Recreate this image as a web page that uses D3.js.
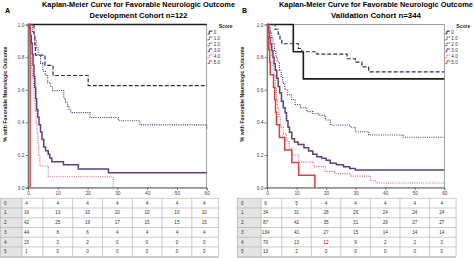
<!DOCTYPE html>
<html>
<head>
<meta charset="utf-8">
<script src="https://cdn.jsdelivr.net/npm/d3@7"></script>
<style>
body { margin: 0; background: #fff; }
svg { display: block; }
text { font-family: "Liberation Sans", Arial, sans-serif; }
</style>
</head>
<body>
<div id="chart"></div>
<script>
var months = [0, 10, 20, 30, 40, 50, 60],
    yTicks = [0, 0.2, 0.4, 0.6, 0.8, 1.0],
    scoreLabels = ['0', '1.0', '2.0', '3.0', '4.0', '5.0'],
    rowLabels = ['0', '1', '2', '3', '4', '5'];

// numbers at risk, one row per score, one value per month tick
var riskDev = [
    [4, 4, 4, 4, 4, 4, 4],
    [16, 13, 10, 10, 10, 10, 10],
    [42, 25, 19, 17, 15, 15, 15],
    [44, 8, 6, 4, 4, 4, 4],
    [15, 2, 2, 0, 0, 0, 0],
    [1, 0, 0, 0, 0, 0, 0]
];
var riskVal = [
    [6, 5, 4, 4, 4, 4, 4],
    [34, 31, 28, 26, 24, 24, 24],
    [87, 42, 35, 31, 29, 27, 27],
    [134, 41, 27, 15, 14, 14, 14],
    [70, 13, 12, 9, 2, 2, 2],
    [13, 2, 0, 0, 0, 0, 0]
];

// Kaplan-Meier steps: [month, survival from that month on]
var dev0 = [[0, 1], [60, 1]];
var dev1 = [[0, 1], [2.0, 0.9375], [2.3, 0.875], [2.5, 0.8125], [5.7, 0.75], [8.4, 0.6875], [20.2, 0.625], [60, 0.625]];
var dev2 = [[0, 1], [1.5, 0.952], [2.2, 0.905], [2.8, 0.857], [3.4, 0.81], [4.2, 0.762], [5, 0.714], [5.8, 0.69],
    [6.6, 0.643], [7.6, 0.619], [8.3, 0.595], [12, 0.548], [12.6, 0.524], [13.3, 0.5], [13.8, 0.476], [14.4, 0.46],
    [20.8, 0.43], [30.3, 0.41], [37.6, 0.385], [60, 0.36]];
var dev3 = [[0, 1], [0.5, 0.977], [0.8, 0.932], [1.1, 0.886], [1.4, 0.818], [1.7, 0.75], [2, 0.682], [2.3, 0.614],
    [2.6, 0.545], [2.9, 0.477], [3.3, 0.432], [3.7, 0.386], [4.2, 0.341], [4.7, 0.295], [5.3, 0.25], [5.9, 0.227],
    [6.8, 0.205], [7.3, 0.182], [8, 0.159], [11.9, 0.14], [16.9, 0.114], [27, 0.092], [60, 0.092]];
var dev4 = [[0, 1], [0.3, 0.933], [0.6, 0.867], [0.9, 0.8], [1.2, 0.733], [1.5, 0.667], [1.8, 0.6], [2.1, 0.533],
    [2.4, 0.467], [2.7, 0.4], [3, 0.333], [3.3, 0.267], [3.6, 0.2], [4, 0.133], [6.8, 0.067], [28.6, 0]];
var dev5 = [[0, 1], [0.7, 0]];

var val0 = [[0, 1], [8.9, 0.833], [12.3, 0.667], [60, 0.667]];
var val1 = [[0, 1], [2.7, 0.971], [3.8, 0.941], [4.4, 0.912], [5, 0.882], [10.6, 0.853], [11.8, 0.833], [16.9, 0.818],
    [27.1, 0.79], [29.9, 0.77], [32.1, 0.74], [34.4, 0.71], [60, 0.71]];
var val2 = [[0, 1], [0.8, 0.977], [1.2, 0.954], [1.6, 0.92], [2, 0.885], [2.5, 0.84], [3, 0.8], [3.5, 0.77],
    [4.2, 0.72], [4.8, 0.68], [5.3, 0.64], [6, 0.6], [7, 0.57], [8.3, 0.54], [9.5, 0.51], [11.3, 0.49], [13.5, 0.466],
    [15.5, 0.455], [17.5, 0.445], [19.7, 0.415], [21.4, 0.384], [28.2, 0.37], [29.9, 0.343], [34.4, 0.323],
    [46, 0.309], [60, 0.309]];
var val3 = [[0, 1], [0.3, 0.985], [0.6, 0.955], [0.9, 0.918], [1.2, 0.88], [1.6, 0.84], [2, 0.8], [2.4, 0.76],
    [2.8, 0.72], [3.3, 0.67], [3.8, 0.62], [4.3, 0.58], [4.9, 0.53], [5.5, 0.49], [6.1, 0.46], [6.6, 0.41],
    [7.1, 0.37], [7.6, 0.34], [8.4, 0.3], [9.3, 0.28], [10.5, 0.265], [12.5, 0.245], [14.1, 0.225], [15.5, 0.205],
    [16.9, 0.19], [18.5, 0.18], [20, 0.168], [21.4, 0.15], [23.5, 0.14], [25.9, 0.128], [28, 0.118], [29.9, 0.108],
    [60, 0.108]];
var val4 = [[0, 1], [0.4, 0.957], [0.8, 0.914], [1.2, 0.857], [1.6, 0.8], [2, 0.743], [2.4, 0.686], [2.8, 0.614],
    [3.2, 0.543], [3.6, 0.486], [4, 0.43], [4.5, 0.37], [5.5, 0.33], [6.6, 0.286], [7.5, 0.243], [8.4, 0.2],
    [10.8, 0.157], [15.8, 0.129], [19.7, 0.1], [23, 0.086], [28.2, 0.071], [35, 0.043], [36.9, 0.029], [60, 0.029]];
var val5 = [[0, 1], [0.3, 0.923], [0.6, 0.846], [0.9, 0.769], [1.1, 0.692], [2.2, 0.615], [2.6, 0.538], [2.9, 0.462],
    [3.2, 0.385], [4.2, 0.308], [6, 0.231], [8.4, 0.154], [10.7, 0.077], [16.2, 0]];

var styles = [
    {color: '#1b1b1b', width: 1.6, dash: null},
    {color: '#2d2f5e', width: 1.2, dash: '4,2'},
    {color: '#3b3f70', width: 1.1, dash: '1,1.2'},
    {color: '#5e3f80', width: 1.5, dash: null},
    {color: '#c8697a', width: 1.1, dash: '1,1.2'},
    {color: '#d9403c', width: 1.5, dash: null}
];

var svg = d3.select('#chart').append('svg')
    .attr('width', 474)
    .attr('height', 258);

var panels = [
    {letter: 'A', left: 0, x0: 28, x1: 206.7, cx: 138.5, len1: 193, len2: 98,
     sub: 'Development Cohort n=122', curves: [dev0, dev1, dev2, dev3, dev4, dev5], risk: riskDev},
    {letter: 'B', left: 237, x0: 267, x1: 444.3, cx: 376, len1: 194, len2: 90,
     sub: 'Validation Cohort n=344', curves: [val0, val1, val2, val3, val4, val5], risk: riskVal}
];

panels.forEach(drawPanel);

function drawPanel(p) {
    var g = svg.append('g'),
        x = d3.scaleLinear().domain([0, 60]).range([p.x0, p.x1]),
        y = d3.scaleLinear().domain([0, 1]).range([187.7, 24.5]),
        line = d3.line()
            .x(function(d) { return x(d[0]); })
            .y(function(d) { return y(d[1]); })
            .curve(d3.curveStepAfter),
        edges = [-2, 5, 15, 25, 35, 45, 55, 64],
        top = 198.3,
        rowH = 9.73,
        xa, ya, lg, tb;

    g.append('text')
        .attr('x', p.left + 5).attr('y', 12.7)
        .style('font-size', '7px').style('font-weight', 'bold')
        .text(p.letter);
    g.append('text')
        .attr('x', p.cx).attr('y', 7)
        .attr('text-anchor', 'middle')
        .attr('textLength', p.len1).attr('lengthAdjust', 'spacingAndGlyphs')
        .style('font-size', '7.2px').style('font-weight', 'bold')
        .text('Kaplan-Meier Curve for Favorable Neurologic Outcome');
    g.append('text')
        .attr('x', p.cx).attr('y', 18.3)
        .attr('text-anchor', 'middle')
        .attr('textLength', p.len2).attr('lengthAdjust', 'spacingAndGlyphs')
        .style('font-size', '7.2px').style('font-weight', 'bold')
        .text(p.sub);

    g.append('text')
        .attr('transform', 'translate(' + (p.left + 6.8) + ',94) rotate(-90)')
        .attr('text-anchor', 'middle')
        .style('font-size', '5.2px').style('font-weight', 'bold')
        .style('fill', '#222')
        .text('% with Favorable Neurologic Outcome');

    // frame
    g.append('rect')
        .attr('x', x(0)).attr('y', y(1))
        .attr('width', x(60) - x(0)).attr('height', y(0) - y(1))
        .style('fill', 'none').style('stroke', '#777').style('stroke-width', 0.7);

    ya = g.append('g')
        .attr('transform', 'translate(' + x(0) + ',0)')
        .call(d3.axisLeft(y).tickValues(yTicks).tickFormat(d3.format('.1f')).tickSize(2.5).tickPadding(1));
    xa = g.append('g')
        .attr('transform', 'translate(0,' + y(0) + ')')
        .call(d3.axisBottom(x).tickValues(months).tickSize(2.5).tickPadding(1));
    [xa, ya].forEach(function(a) {
        a.selectAll('path, line').style('stroke', '#555').style('stroke-width', 0.7);
        a.selectAll('text').style('font-size', '4.8px').style('fill', '#444')
            .style('font-family', '"Liberation Sans", Arial, sans-serif');
    });

    p.curves.forEach(function(c, i) {
        g.append('path')
            .datum(c)
            .attr('d', line)
            .style('fill', 'none')
            .style('stroke', styles[i].color)
            .style('stroke-width', styles[i].width)
            .style('stroke-dasharray', styles[i].dash);
    });

    // legend
    lg = g.append('g');
    lg.append('text')
        .attr('x', x(60) + 12).attr('y', 28)
        .style('font-size', '5px').style('font-weight', 'bold').style('fill', '#222')
        .text('Score');
    scoreLabels.forEach(function(s, i) {
        var ly = 32.3 + i * 5.95,
            lx = x(60) + 1;
        lg.append('path')
            .attr('d', 'M' + lx + ',' + (ly + 1.6) + 'h1.6v-2.8h3')
            .style('fill', 'none')
            .style('stroke', styles[i].color)
            .style('stroke-width', 1)
            .style('stroke-dasharray', styles[i].dash ? '1,0.6' : null);
        lg.append('text')
            .attr('x', lx + 6).attr('y', ly + 1.7)
            .style('font-size', '4.6px').style('fill', '#333')
            .text(s);
    });

    // numbers at risk table
    tb = g.append('g');
    tb.append('rect')
        .attr('x', p.left).attr('y', top)
        .attr('width', x(edges[0]) - p.left).attr('height', rowH * 6)
        .style('fill', '#e4e4e4');
    tb.append('rect')
        .attr('x', p.left).attr('y', top + rowH * 6)
        .attr('width', x(edges[edges.length - 1]) - p.left).attr('height', 3)
        .style('fill', '#d2d2d2');
    d3.range(7).forEach(function(r) {
        tb.append('line')
            .attr('x1', p.left).attr('x2', x(edges[edges.length - 1]))
            .attr('y1', top + r * rowH).attr('y2', top + r * rowH)
            .style('stroke', '#aaa').style('stroke-width', 0.6);
    });
    edges.forEach(function(e) {
        tb.append('line')
            .attr('x1', x(e)).attr('x2', x(e))
            .attr('y1', top).attr('y2', top + rowH * 6)
            .style('stroke', '#aaa').style('stroke-width', 0.6);
    });
    tb.append('line')
        .attr('x1', p.left + 0.3).attr('x2', p.left + 0.3)
        .attr('y1', top).attr('y2', top + rowH * 6)
        .style('stroke', '#aaa').style('stroke-width', 0.6);
    p.risk.forEach(function(row, r) {
        var ty = top + r * rowH + rowH / 2 + 1.6;
        tb.append('text')
            .attr('x', p.left + 4).attr('y', ty)
            .style('font-size', '4.6px').style('fill', '#333')
            .text(rowLabels[r]);
        row.forEach(function(v, j) {
            var t = months[j],
                tx = x(t) - (t === 60 ? 2.5 : (t === 0 ? 1.5 : 0));
            tb.append('text')
                .attr('x', tx).attr('y', ty)
                .attr('text-anchor', 'middle')
                .style('font-size', '4.6px').style('fill', '#333')
                .text(v);
        });
    });
}
</script>
</body>
</html>
